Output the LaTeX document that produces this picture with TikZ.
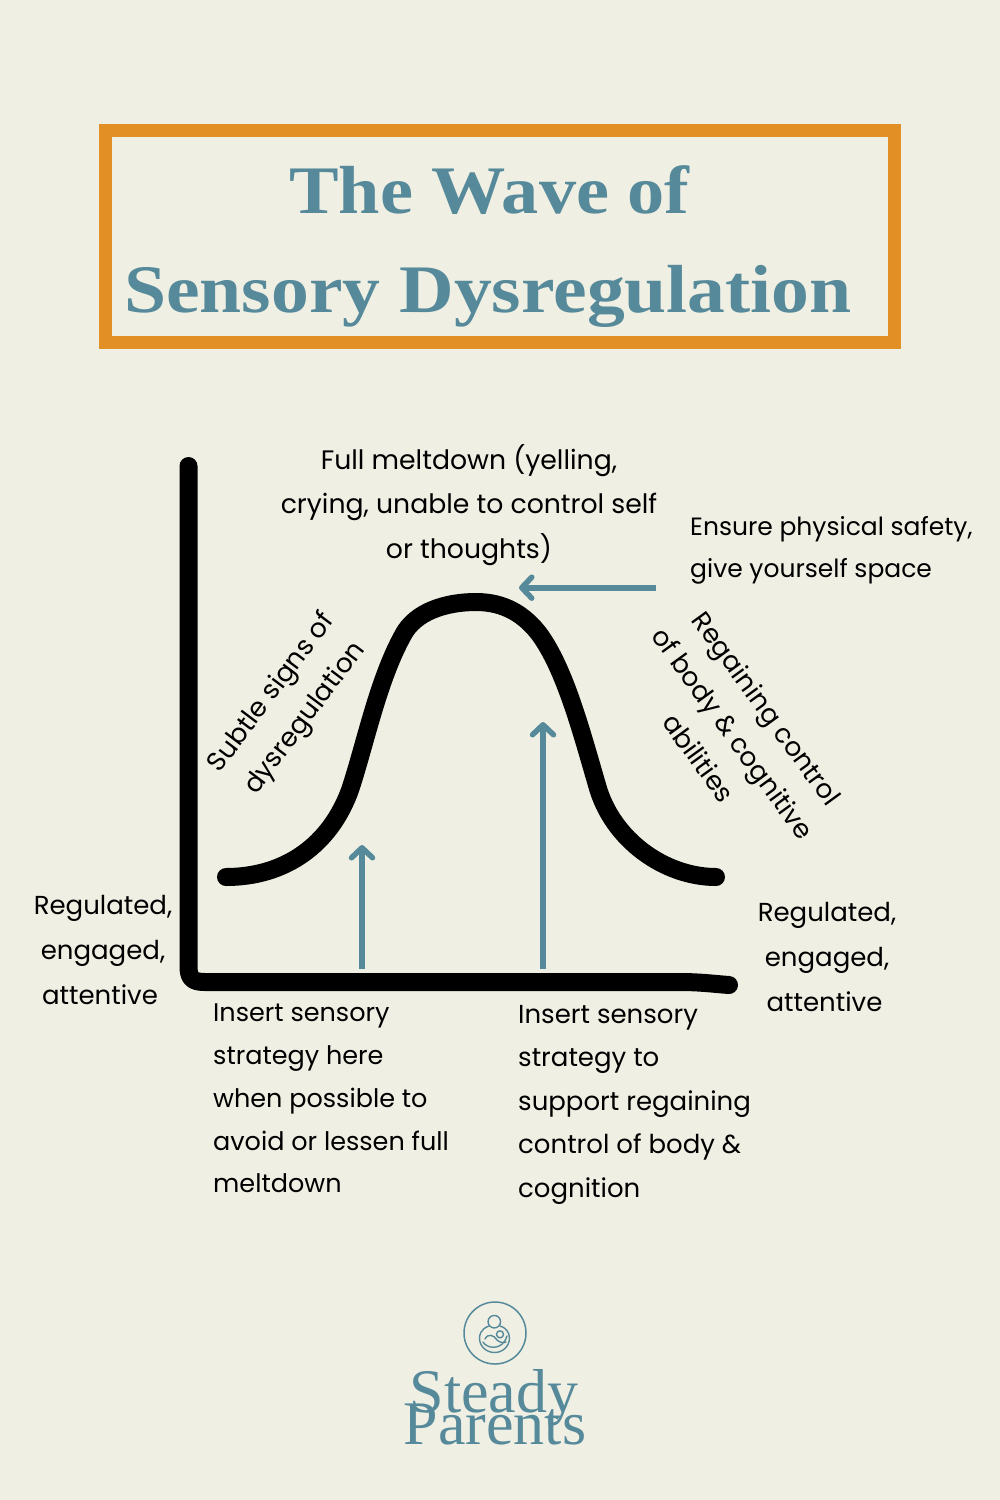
\documentclass[tikz,border=0pt]{standalone}
\usepackage{fontspec}
\setmainfont{Poppins}
\newfontfamily\titlefont{Liberation Serif}
\usetikzlibrary{arrows.meta}
\definecolor{bgc}{HTML}{EFEFE3}
\definecolor{teal}{HTML}{568A9B}
\definecolor{org}{HTML}{E29025}
\tikzset{
  x=1pt,y=-1pt,
  body/.style={font=\fontsize{26}{45}\selectfont,align=left,inner sep=0pt,text=black},
  bodyc/.style={body,align=center},
  thick axis/.style={line width=18pt,line cap=round,line join=round,draw=black},
  teal arrow/.style={line width=5.7pt,draw=teal,-{Straight Barb[length=10pt,width=21pt,line width=5.5pt,round]}},
  ttl/.style={font=\titlefont\bfseries\fontsize{68}{68}\selectfont,text=teal,inner sep=0pt},
  logot/.style={font=\titlefont\fontsize{62}{62}\selectfont,text=teal,inner sep=0pt},
  logol/.style={draw=teal,line width=1.4pt},
}
\begin{document}
\begin{tikzpicture}
\useasboundingbox (0,0) rectangle (1000,1500);
\fill[bgc] (0,0) rectangle (1000,1500);
\draw[org,line width=13pt] (105.5,130.5) rectangle (894.5,342.5);
\node[ttl,anchor=base] (t1) at (489.5,213) {\scalebox{1.093}[1]{The Wave of}};
\node[ttl,anchor=base] (t2) at (488,312) {\scalebox{1.112}[1]{Sensory Dysregulation}};
% axes
\draw[thick axis] (188.5,466) -- (188.5,966) .. controls (188.5,978) and (192,982) .. (205,982) -- (680,982) .. controls (700,982) and (715,984) .. (729,985);
% wave
\draw[thick axis] (226,877) .. controls (285,877) and (330,845) .. (350,790)
  .. controls (365,745) and (378,680) .. (403,635)
  .. controls (415,612) and (445,602) .. (476,602)
  .. controls (505,602) and (525,615) .. (540,635)
  .. controls (565,670) and (581,730) .. (597,785)
  .. controls (612,840) and (665,877) .. (716,877);
% arrows
\coordinate (a1s) at (362,969); \coordinate (a1e) at (362,845);
\coordinate (a2s) at (543,969); \coordinate (a2e) at (543,722);
\coordinate (a3s) at (656,587.7); \coordinate (a3e) at (519,587.7);
\draw[teal arrow] (a1s) -- (a1e);
\draw[teal arrow] (a2s) -- (a2e);
\draw[teal arrow] (a3s) -- (a3e);
% labels
\node[bodyc,font=\fontsize{26.7}{44.5}\selectfont] (peak) at (469,505) {Full meltdown (yelling,\\crying, unable to control self\\or thoughts)};
\node[body,anchor=west,font=\fontsize{25}{42}\selectfont] (safe) at (690,550) {Ensure physical safety,\\give yourself space};
\node[bodyc,rotate=53,font=\fontsize{26.5}{42}\selectfont] (subtle) at (289,706) {Subtle signs of\\dysregulation};
\node[bodyc,rotate=-54,font=\fontsize{26.3}{42}\selectfont] (regain) at (733,733) {Regaining control\\of body \& cognitive\\abilities};
\node[bodyc] (regl) at (103,950) {Regulated,\\engaged,\\attentive\hspace{6pt}\null};
\node[bodyc] (regr) at (827,957) {Regulated,\\engaged,\\attentive\hspace{5pt}\null};
\node[body,anchor=north west,font=\fontsize{25.5}{42.7}\selectfont] (ins1) at (213,1004) {Insert sensory\\strategy here\\when possible to\\avoid or lessen full\\meltdown};
\node[body,anchor=north west,font=\fontsize{26}{43.5}\selectfont] (ins2) at (518,1005) {Insert sensory\\strategy to\\support regaining\\control of body \&\\cognition};
% logo
\node[draw=teal,line width=1.5pt,circle,minimum size=62pt,inner sep=0pt] (logoc) at (495,1333) {};
\node[logol,circle,minimum size=12.5pt,inner sep=0pt] (lhead) at (494.3,1321.7) {};
\node[logol,circle,minimum size=7pt,inner sep=0pt] (lbaby) at (500,1334.3) {};
\draw[logol,line cap=round] (489,1326) .. controls (480,1329) and (479.5,1336) .. (479.5,1338) .. controls (479.5,1347) and (487,1352.5) .. (494.5,1352.5) .. controls (503,1352.5) and (509.5,1346) .. (509.5,1338) .. controls (509.5,1332) and (505,1327) .. (500,1326);
\draw[logol,line cap=round] (483,1342) .. controls (486,1348) and (502,1352) .. (507,1336);
\draw[logol,line cap=round] (485,1339) .. controls (488,1333) and (494,1335) .. (497,1340) .. controls (500,1343) and (505,1343) .. (506,1342);
\node[logot,anchor=base] (steady) at (494,1412.5) {Steady};
\node[logot,anchor=base] (parents) at (495,1444) {Parents};
\draw[teal,line width=1.3pt,line cap=round] (414,1401) .. controls (414,1410) and (420,1411) .. (428,1412);
\draw[teal,line width=1.3pt,line cap=round] (548,1419) .. controls (551,1416) and (554,1416) .. (558,1419);
\end{tikzpicture}
\end{document}
